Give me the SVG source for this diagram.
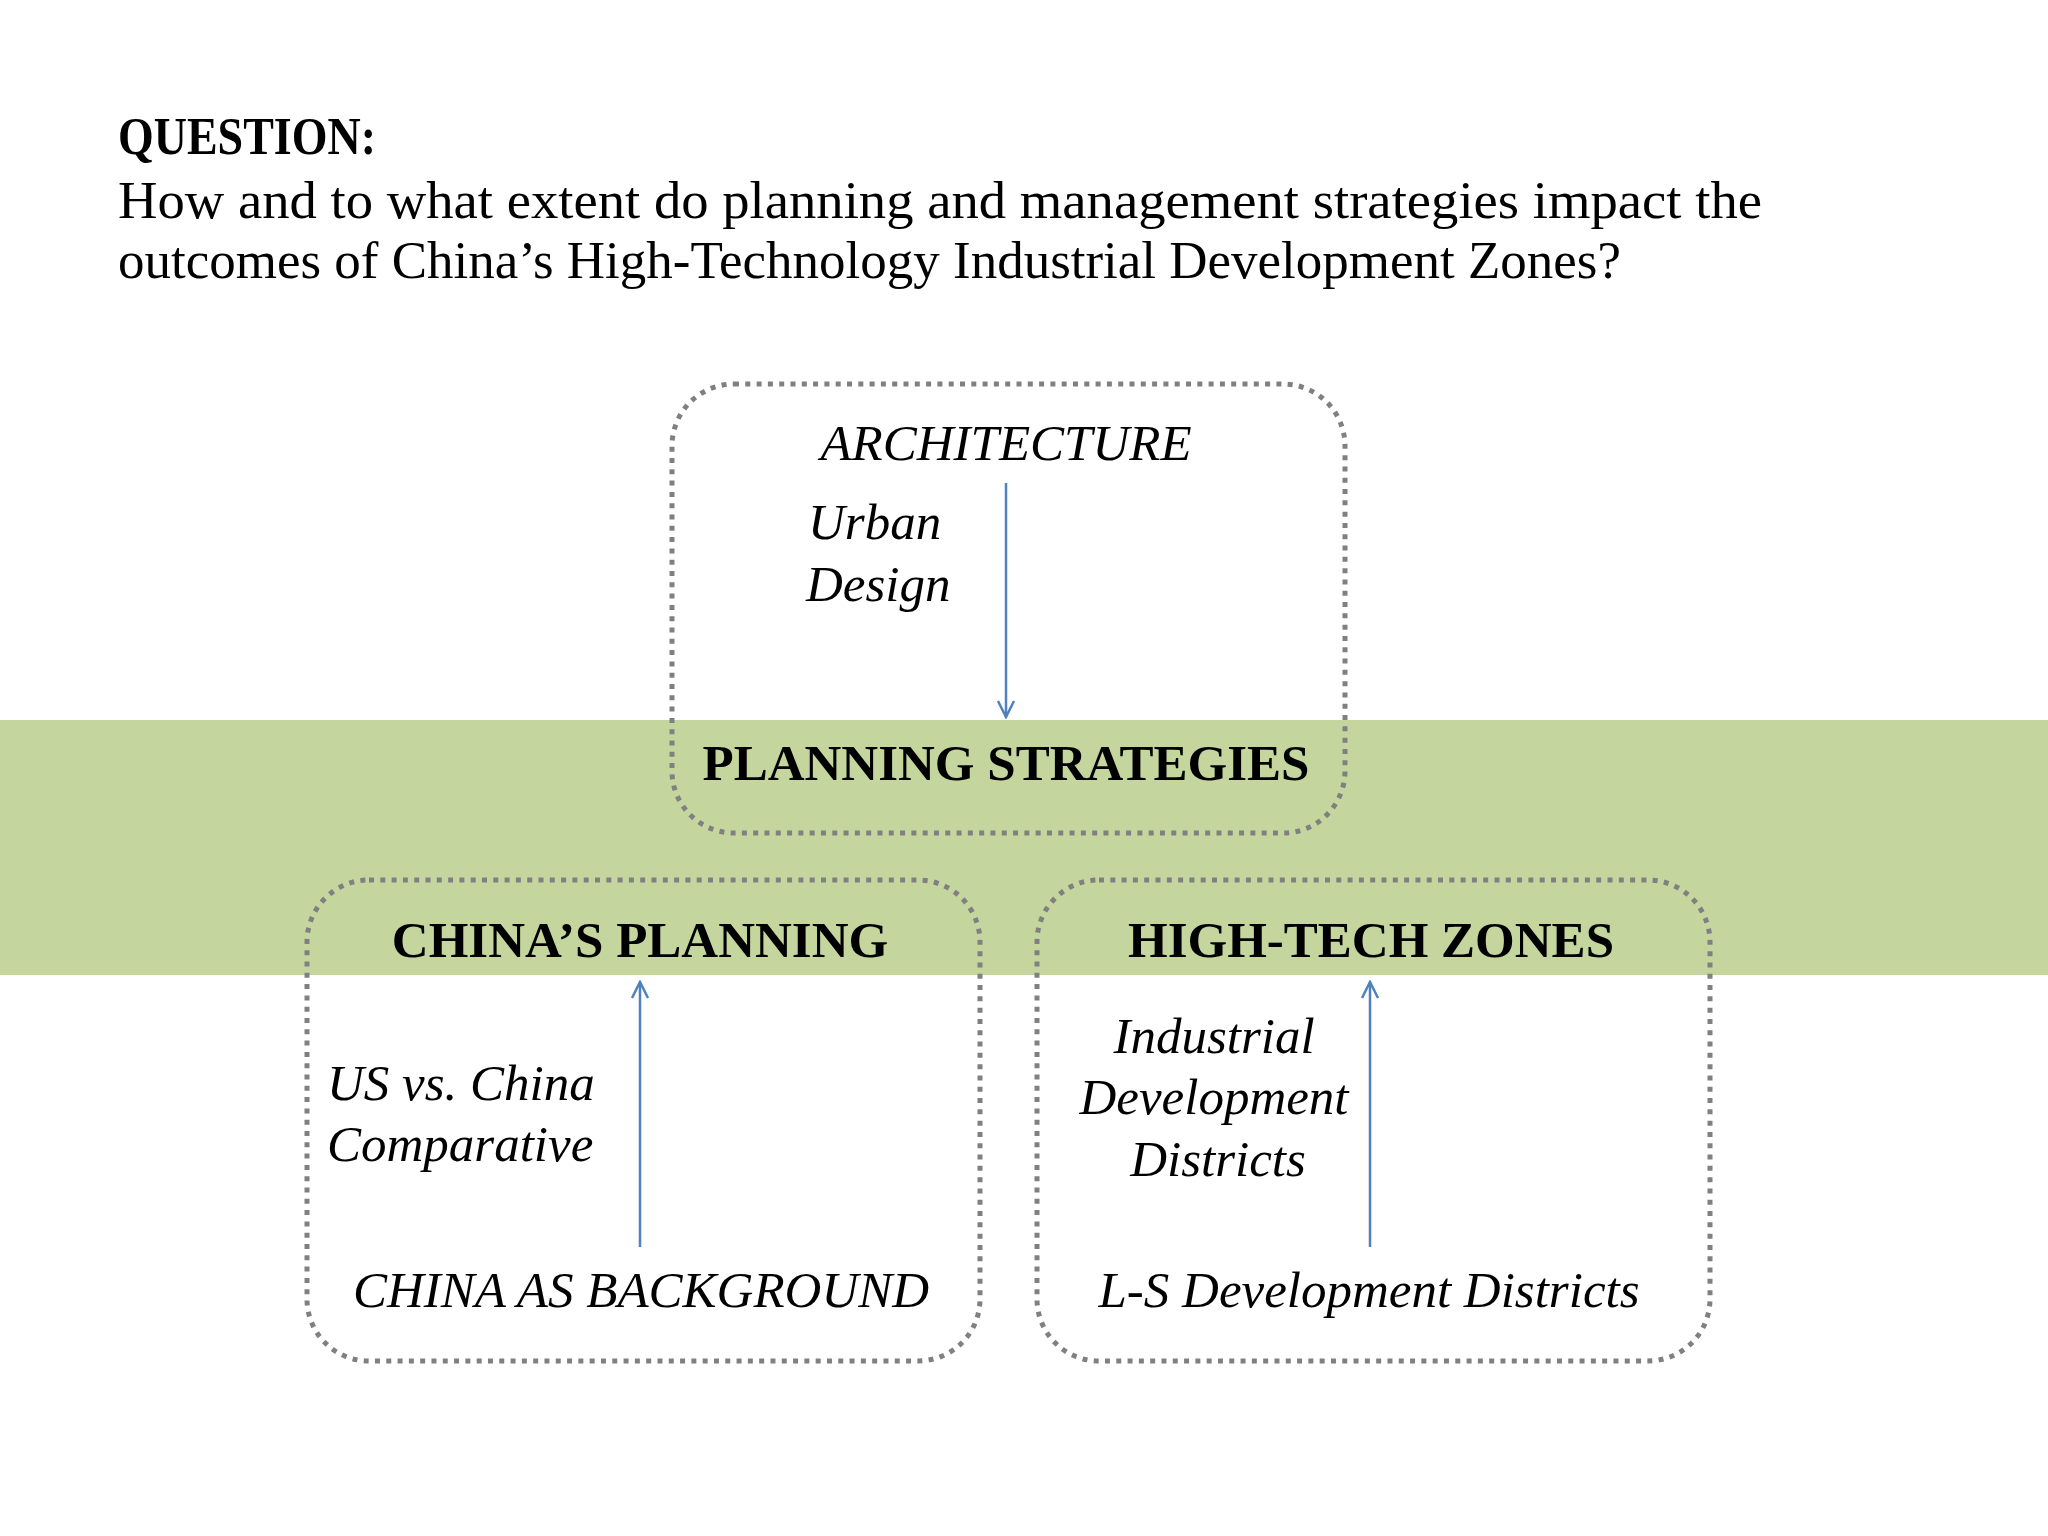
<svg xmlns="http://www.w3.org/2000/svg" width="2048" height="1536" viewBox="0 0 2048 1536">
<style>
.q{font-family:"Liberation Serif",serif;font-size:52px;fill:#000}
.qb{font-weight:bold}
.it{font-family:"Liberation Serif",serif;font-style:italic;font-size:51px;fill:#000}
.hd{font-family:"Liberation Serif",serif;font-weight:bold;font-size:51px;fill:#000}
.box{fill:none;stroke:#808080;stroke-width:5;stroke-dasharray:5 6.3}
.arr{stroke:#4f81bd;stroke-width:2.5;fill:none}
</style>
<defs>
<marker id="ah" viewBox="0 0 20 20" refX="18" refY="10" markerWidth="20" markerHeight="20" markerUnits="userSpaceOnUse" orient="auto">
<path d="M2,2 L18,10 L2,18" fill="none" stroke="#4f81bd" stroke-width="2.5"/>
</marker>
</defs>
<rect x="0" y="0" width="2048" height="1536" fill="#fff"/>
<rect id="band" x="0" y="720" width="2048" height="255" fill="#c4d69e"/>
<g id="question">
<text class="q qb" x="118" y="154" textLength="258" lengthAdjust="spacingAndGlyphs">QUESTION:</text>
<text class="q" x="118" y="218" textLength="1644" lengthAdjust="spacingAndGlyphs">How and to what extent do planning and management strategies impact the</text>
<text class="q" x="118" y="278" textLength="1503" lengthAdjust="spacingAndGlyphs">outcomes of China’s High-Technology Industrial Development Zones?</text>
</g>
<g id="node-planning">
<rect class="box" x="672" y="384" width="673" height="449" rx="62"/>
<text class="it" x="1006" y="460" text-anchor="middle">ARCHITECTURE</text>
<text class="it" x="808" y="539">Urban</text>
<text class="it" x="806" y="601">Design</text>
<text class="hd" x="1006" y="780" text-anchor="middle">PLANNING STRATEGIES</text>
</g>
<g id="node-china">
<rect class="box" x="307" y="880" width="673" height="481" rx="62"/>
<text class="hd" x="640" y="957" text-anchor="middle">CHINA’S PLANNING</text>
<text class="it" x="327" y="1100">US vs. China</text>
<text class="it" x="327" y="1161">Comparative</text>
<text class="it" x="641" y="1307" text-anchor="middle">CHINA AS BACKGROUND</text>
</g>
<g id="node-hightech">
<rect class="box" x="1037" y="880" width="673" height="481" rx="62"/>
<text class="hd" x="1371" y="957" text-anchor="middle">HIGH-TECH ZONES</text>
<text class="it" x="1214" y="1053" text-anchor="middle">Industrial</text>
<text class="it" x="1214" y="1114" text-anchor="middle">Development</text>
<text class="it" x="1218" y="1176" text-anchor="middle">Districts</text>
<text class="it" x="1369" y="1307" text-anchor="middle">L-S Development Districts</text>
</g>
<g id="connectors">
<line class="arr" x1="1006" y1="483" x2="1006" y2="717" marker-end="url(#ah)"/>
<line class="arr" x1="640" y1="1247" x2="640" y2="982" marker-end="url(#ah)"/>
<line class="arr" x1="1370" y1="1247" x2="1370" y2="982" marker-end="url(#ah)"/>
</g>
</svg>
